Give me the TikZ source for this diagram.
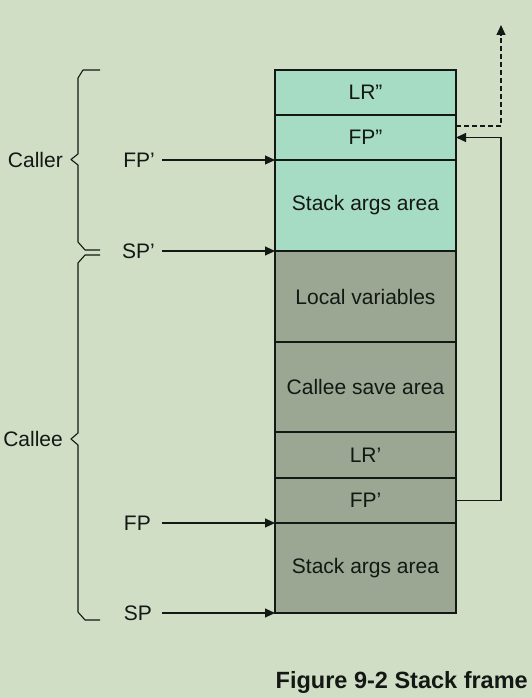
\documentclass[tikz,border=0pt]{standalone}
\usepackage{fontspec}
\setmainfont{Liberation Sans}
\usetikzlibrary{positioning,arrows.meta}
\definecolor{bgcol}{RGB}{208,222,197}
\definecolor{callercol}{RGB}{166,220,196}
\definecolor{calleecol}{RGB}{155,167,147}
\definecolor{inkcol}{RGB}{20,24,20}
\begin{document}
\begin{tikzpicture}[x=1pt,y=-1pt,
    every node/.style={inner sep=0pt,text=inkcol,font=\fontsize{21}{25}\selectfont},
    cell/.style={draw=inkcol,line width=1.1pt,outer sep=0pt,minimum width=181pt},
    ptr/.style={draw=inkcol,line width=1.1pt,-{Triangle[length=10pt,width=9pt]}},
    brace/.style={draw=inkcol,line width=1.1pt,line join=round}]
    % background and page size
    \fill [bgcol] (0,0) rectangle (532,698);
    \useasboundingbox (0,0) rectangle (532,698);
    % stack cells
    \node [cell, fill=callercol, minimum height=45pt] (lrcaller) at (365.5,92.5) {LR”};
    \node [cell, fill=callercol, minimum height=45pt, below=0pt of lrcaller] (fpcaller) {FP”};
    \node [cell, fill=callercol, minimum height=91pt, below=0pt of fpcaller] (argscaller) {Stack args area};
    \node [cell, fill=calleecol, minimum height=91pt, below=0pt of argscaller] (locals) {Local variables};
    \node [cell, fill=calleecol, minimum height=90pt, below=0pt of locals] (saves) {Callee save area};
    \node [cell, fill=calleecol, minimum height=46pt, below=0pt of saves] (lrcallee) {LR’};
    \node [cell, fill=calleecol, minimum height=45pt, below=0pt of lrcallee] (fpcallee) {FP’};
    \node [cell, fill=calleecol, minimum height=90pt, below=0pt of fpcallee] (argscallee) {Stack args area};
    % pointers
    \node [left=120pt of argscaller.north west] (fpold) {FP’};
    \node [left=120pt of locals.north west] (spold) {SP’};
    \node [left=124pt of argscallee.north west] (fpnew) {FP};
    \node [left=123pt of argscallee.south west] (spnew) {SP};
    \draw [ptr, shorten <=7pt] (fpold) -- (argscaller.north west);
    \draw [ptr, shorten <=7pt] (spold) -- (locals.north west);
    \draw [ptr, shorten <=11pt] (fpnew) -- (argscallee.north west);
    \draw [ptr, shorten <=10pt] (spnew) -- (argscallee.south west);
    % saved frame links
    \coordinate (up) at (501,25);
    \draw [ptr, dash pattern=on 5pt off 3pt] ([yshift=11.5pt]fpcaller.east) -| (up);
    \draw [ptr] (fpcallee.east) -- ++(45,0) |- (fpcaller.east);
    % braces
    \draw [brace] (100,70) -- (83,70) -- (78,78) -- (78,154) -- (71,159.5) -- (78,165) -- (78,242) -- (85,250) -- (100,250);
    \draw [brace] (100,255) -- (85,255) -- (78,263) -- (78,433) -- (71,439) -- (78,445) -- (78,612) -- (85,620) -- (100,620);
    \node [anchor=east] (caller) at (63,159.5) {Caller};
    \node [anchor=east] (callee) at (63,439) {Callee};
    % caption
    \node [anchor=base east, font=\fontsize{23.5}{28}\selectfont\bfseries] (caption) at (528,688) {Figure 9-2 Stack frame};
\end{tikzpicture}
\end{document}
